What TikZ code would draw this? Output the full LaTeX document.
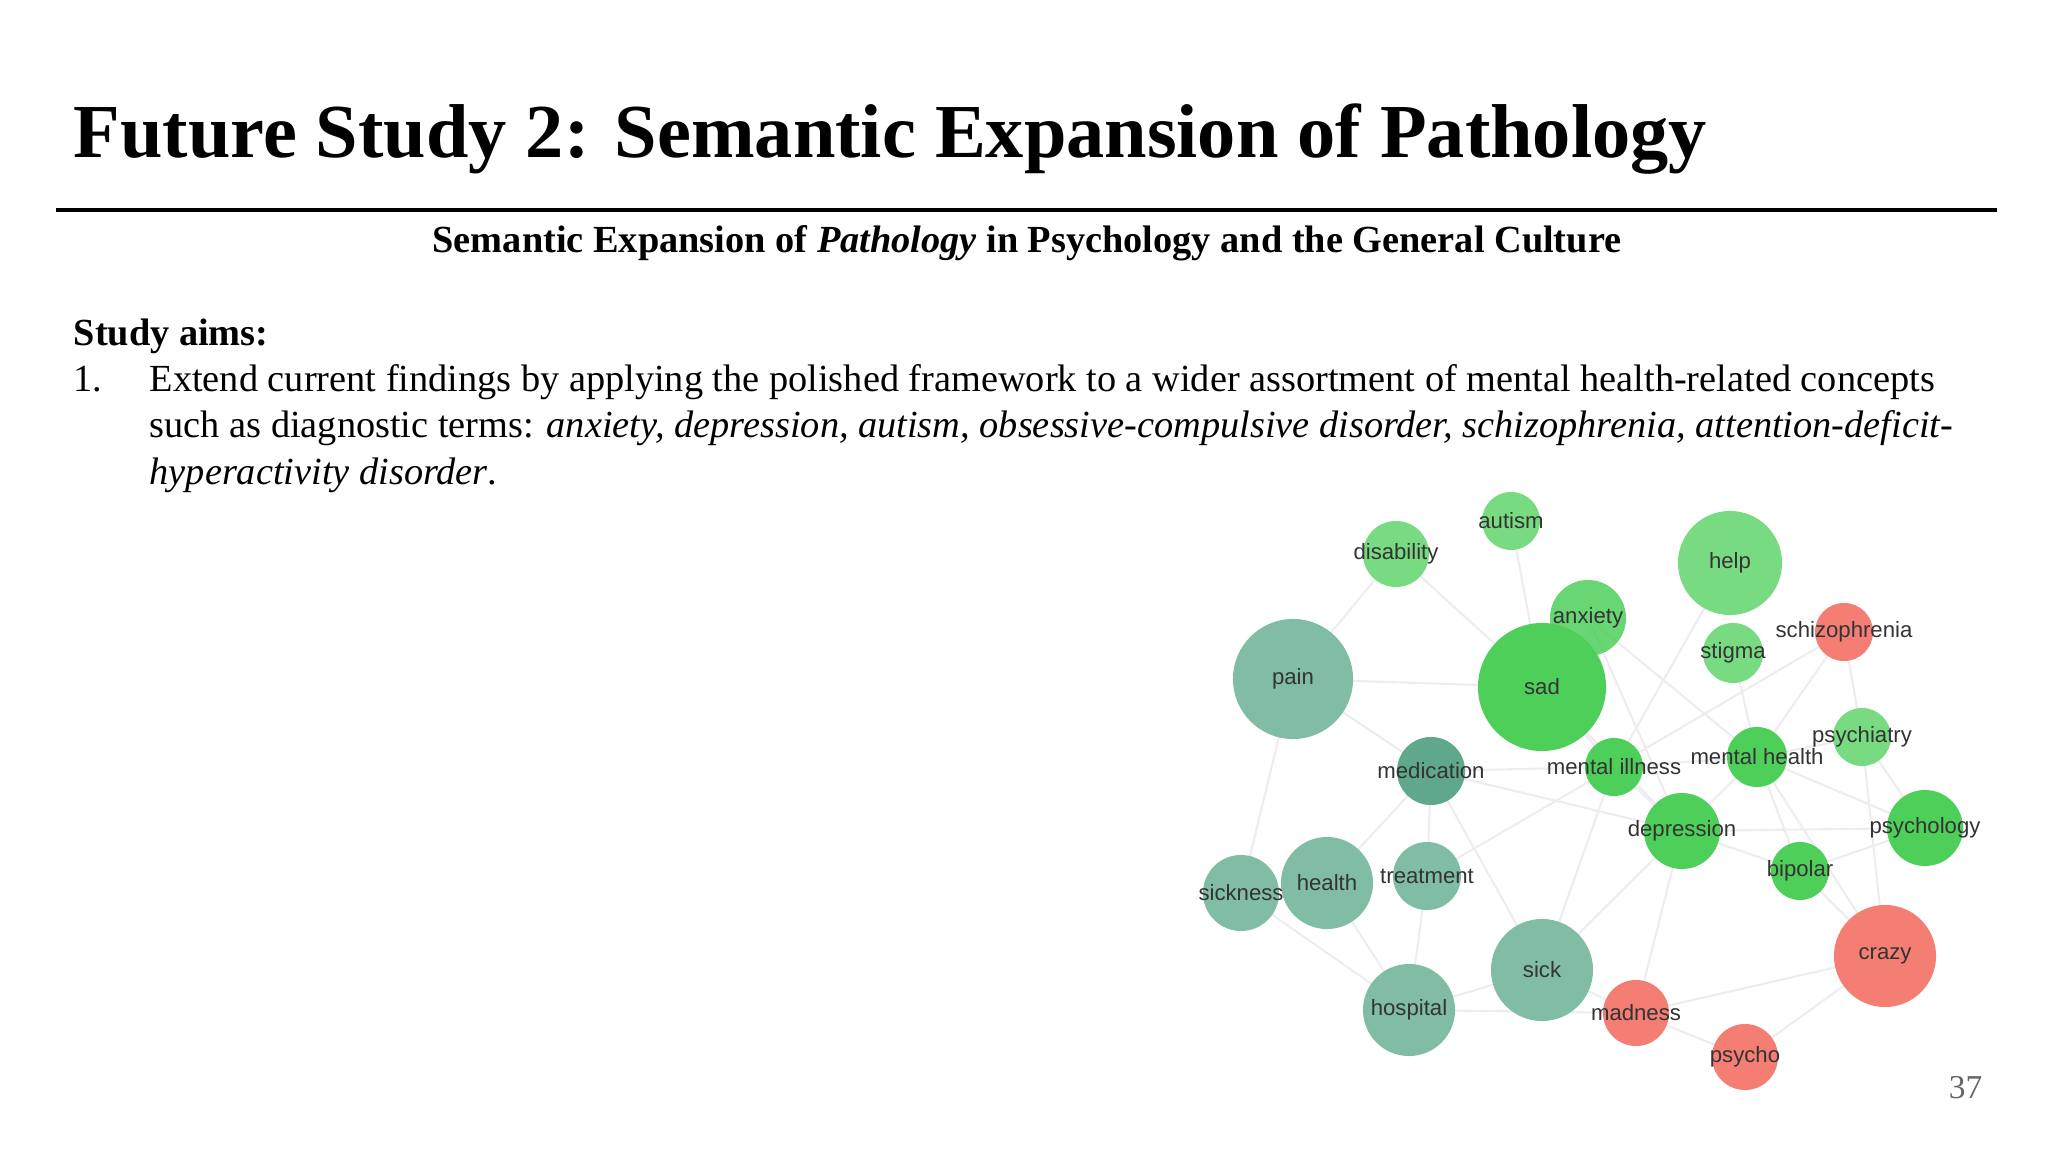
\documentclass[tikz,border=0pt]{standalone}
\usepackage{fontspec}
\setmainfont{Liberation Serif}
\setsansfont{Liberation Sans}
\definecolor{teal}{HTML}{80BDA4}
\definecolor{dteal}{HTML}{5FA88C}
\definecolor{lgreen}{HTML}{78DA81}
\definecolor{mgreen}{HTML}{4ECF59}
\definecolor{rred}{HTML}{F47D74}
\definecolor{edge}{HTML}{EEECF1}
\tikzset{
 bub/.style={circle,inner sep=0pt,minimum size=#1*0.02cm},
 lab/.style={font=\sffamily\fontsize{6.3}{7}\selectfont,text=black!80},
 ed/.style={draw=edge,line width=0.6pt},
 txt/.style={inner sep=0pt,anchor=base west}
}
\begin{document}
\begin{tikzpicture}[x=0.01cm,y=-0.01cm]
\useasboundingbox (0,0) rectangle (2048,1152);
\node[txt,font=\bfseries\fontsize{21.7}{26}\selectfont] (title) at (73,158) {Future Study 2: Semantic Expansion of Pathology};
\draw[line width=1.1pt] (56,210) coordinate (r1) -- (1997,210) coordinate (r2);
\node[anchor=base,inner sep=0pt,font=\bfseries\fontsize{10.9}{12}\selectfont] (sub) at (1027,253) {Semantic Expansion of \textit{Pathology} in Psychology and the General Culture};
\node[txt,font=\bfseries\fontsize{10.9}{12}\selectfont] (aims) at (73,346) {Study aims:};
\node[txt,font=\fontsize{10.9}{12}\selectfont] (n1) at (73,392) {1.};
\node[txt,font=\fontsize{10.9}{12}\selectfont] (l1) at (149,392) {Extend current findings by applying the polished framework to a wider assortment of mental health-related concepts};
\node[txt,font=\fontsize{10.9}{12}\selectfont] (l2) at (149,438) {such as diagnostic terms: \textit{anxiety, depression, autism, obsessive-compulsive disorder, schizophrenia, attention-deficit-}};
\node[txt,font=\fontsize{10.9}{12}\selectfont] (l3) at (149,485) {\textit{hyperactivity disorder}.};
\node[anchor=base east,inner sep=0pt,text=black!60,font=\fontsize{9.5}{12}\selectfont] (pg) at (1983,1098) {37};
% network coordinates
\foreach \n/\x/\y in {autism/1511/521,disability/1396/554,help/1730/563,anxiety/1588/618,schizo/1844/632,stigma/1733/653,pain/1293/679,sad/1542/687,psychiatry/1862/737,medication/1431/771,mill/1614/767,mhealth/1757/757,depression/1682/831,psychology/1925/828,bipolar/1800/871,sickness/1241/893,health/1327/883,treatment/1427/876,crazy/1885/956,sick/1542/970,hospital/1409/1010,madness/1636/1013,psycho/1745/1057}
  \coordinate (\n) at (\x,\y);
\foreach \a/\b in {disability/sad,disability/pain,autism/sad,pain/sad,pain/sickness,pain/medication,sad/mill,sad/depression,anxiety/depression,anxiety/mhealth,mill/depression,mill/schizo,mill/mhealth,mhealth/depression,mhealth/psychiatry,mhealth/psychology,mhealth/bipolar,mhealth/crazy,depression/bipolar,depression/psychology,depression/sick,depression/madness,schizo/psychiatry,schizo/mhealth,psychiatry/psychology,psychiatry/crazy,psychology/bipolar,bipolar/crazy,crazy/madness,crazy/psycho,madness/psycho,sick/hospital,sick/mill,sick/medication,hospital/health,hospital/sickness,hospital/treatment,treatment/medication,treatment/mill,health/sickness,health/medication,medication/mill,medication/depression,hospital/madness,sick/madness,help/mill,stigma/mhealth}
  \draw[ed] (\a) -- (\b);
\foreach \n/\r/\c in {autism/29/lgreen,disability/33/lgreen,help/52/lgreen,sad/64/mgreen,schizo/29/rred,stigma/30/lgreen,pain/60/teal,psychiatry/29/lgreen,medication/34/dteal,mill/29/mgreen,mhealth/30/mgreen,depression/38/mgreen,psychology/38/mgreen,bipolar/29/mgreen,sickness/38/teal,health/46/teal,treatment/34/teal,crazy/51/rred,sick/51/teal,hospital/46/teal,madness/33/rred,psycho/33/rred}
  \node[bub=\r,fill=\c] (b\n) at (\n) {};
\node[bub=38,fill=mgreen,fill opacity=0.85] (banxiety) at (anxiety) {};
\foreach \n/\t in {autism/autism,disability/disability,help/help,sad/sad,anxiety/anxiety,schizo/schizophrenia,stigma/stigma,pain/pain,psychiatry/psychiatry,medication/medication,mill/mental illness,mhealth/mental health,depression/depression,psychology/psychology,bipolar/bipolar,sickness/sickness,health/health,treatment/treatment,crazy/crazy,sick/sick,hospital/hospital,madness/madness,psycho/psycho}
  \node[lab] (t\n) at (\n) {\t};
\end{tikzpicture}
\end{document}
